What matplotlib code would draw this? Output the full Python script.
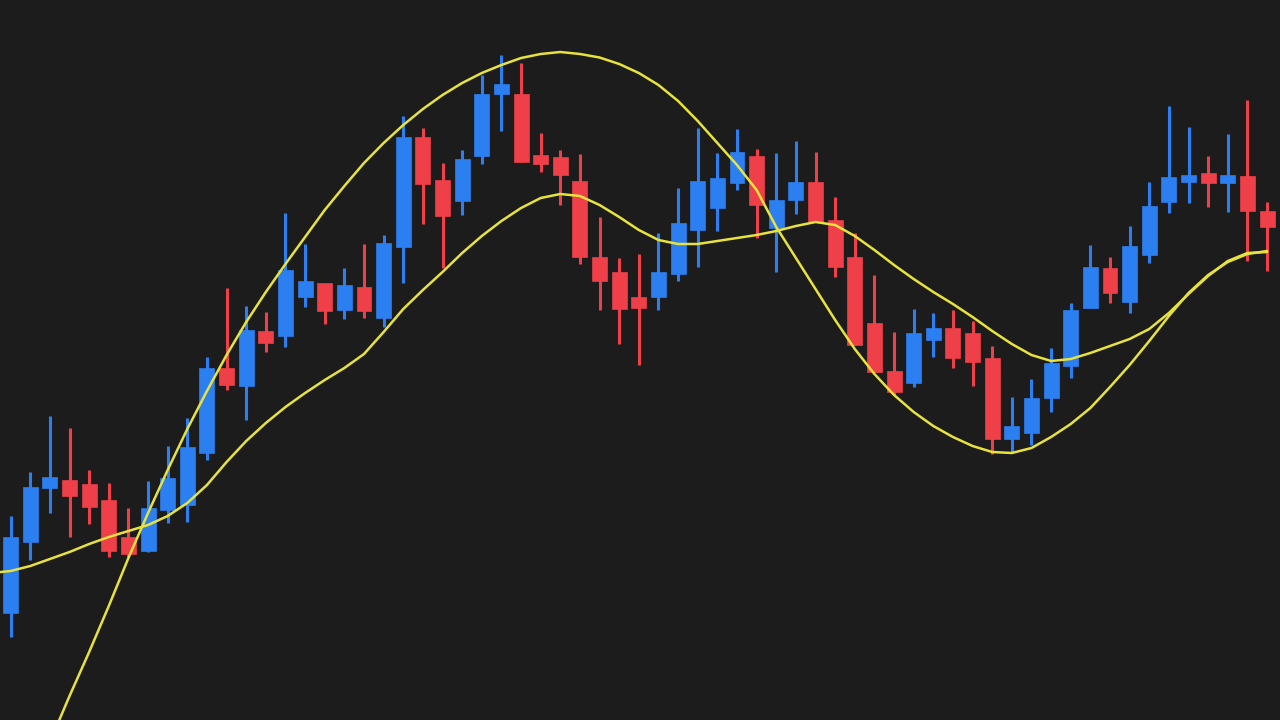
import numpy as np
import matplotlib
matplotlib.use("Agg")
import matplotlib.pyplot as plt

# Candle OHLC (price units)
opens = [111.7, 110.7, 117.8, 123.2, 124.0, 123.6, 122.0, 118.3, 116.9, 121.0,
         121.5, 126.7, 135.2, 133.4, 138.9, 138.4, 142.3, 143.7, 141.0, 143.3,
         140.2, 147.3, 158.3, 154.0, 151.9, 156.4, 162.6, 162.6, 156.5, 156.3,
         153.9, 146.3, 144.8, 142.3, 142.3, 144.6, 149.0, 151.2, 153.7, 156.4,
         149.2, 152.0, 153.8, 150.0, 146.3, 139.7, 134.9, 133.7, 138.0, 139.2,
         138.7, 136.2, 128.1, 128.7, 132.2, 135.4, 141.2, 145.2, 141.8, 146.5,
         151.8, 153.8, 154.7, 153.7, 154.4, 150.9]
highs = [112.2, 120.4, 124.8, 130.4, 129.2, 125.0, 123.7, 121.2, 123.9, 127.4,
         130.2, 136.3, 143.2, 141.4, 140.8, 150.7, 147.6, 143.7, 145.2, 147.6,
         148.5, 160.4, 159.2, 155.7, 157.0, 164.5, 166.5, 165.7, 158.7, 157.0,
         156.6, 150.3, 146.2, 146.6, 148.7, 153.2, 159.2, 156.7, 159.1, 157.1,
         156.7, 157.9, 156.8, 152.3, 148.7, 144.5, 138.8, 141.1, 140.7, 141.0,
         139.9, 137.4, 132.3, 134.1, 137.2, 141.7, 147.5, 146.3, 149.4, 153.8,
         161.4, 159.3, 156.4, 158.6, 162.0, 151.8]
lows = [110.4, 108.3, 116.0, 120.7, 118.3, 119.6, 116.3, 116.3, 116.8, 119.7,
        119.8, 126.0, 133.0, 130.0, 136.8, 137.3, 141.3, 139.6, 140.1, 140.2,
        139.3, 143.7, 149.6, 145.2, 150.5, 155.6, 158.9, 155.8, 154.8, 151.5,
        145.6, 141.0, 137.6, 135.5, 141.0, 143.9, 145.3, 148.9, 153.0, 148.2,
        144.8, 150.6, 149.8, 144.3, 137.5, 134.8, 132.5, 133.3, 136.3, 135.2,
        133.4, 126.6, 126.8, 127.5, 130.8, 134.2, 141.2, 141.7, 140.7, 145.7,
        150.7, 151.7, 151.3, 150.8, 145.9, 144.9]
closes = [110.7, 118.3, 123.3, 124.3, 122.4, 121.3, 116.9, 116.6, 121.2, 124.2,
          127.3, 135.2, 133.5, 139.0, 137.7, 145.0, 143.9, 140.9, 143.5, 140.9,
          147.7, 158.3, 153.6, 150.4, 156.1, 162.6, 163.6, 155.8, 155.6, 154.5,
          146.3, 143.9, 141.1, 141.2, 144.8, 149.7, 153.9, 154.2, 156.8, 151.5,
          152.0, 153.8, 149.8, 145.3, 137.5, 134.8, 132.8, 138.7, 139.2, 136.2,
          135.8, 128.1, 129.4, 132.2, 135.7, 141.0, 145.3, 142.7, 147.4, 151.4,
          154.3, 154.5, 153.7, 154.5, 150.9, 149.3]

nan = float("nan")
fast_ma = [nan, nan, nan, 97.8, 102.4, 106.8, 111.4, 116.2, 120.7, 125.0,
           129.1, 132.9, 136.5, 139.8, 142.8, 145.6, 148.3, 151.0, 153.4, 155.7,
           157.7, 159.5, 161.1, 162.5, 163.7, 164.7, 165.5, 166.2, 166.6, 166.8,
           166.6, 166.25, 165.6, 164.7, 163.5, 161.9, 159.9, 157.7, 155.5, 153.0,
           149.3, 146.2, 143.1, 140.0, 137.1, 134.6, 132.5, 130.8, 129.4, 128.3,
           127.4, 126.8, 126.7, 127.2, 128.3, 129.6, 131.2, 133.3, 135.5, 137.9,
           140.4, 142.7, 144.5, 145.8, 146.6, 146.9]
slow_ma = [114.7, 114.9, 115.4, 116.1, 116.8, 117.6, 118.3, 118.9, 119.5, 120.4,
           121.7, 123.5, 125.8, 127.9, 129.7, 131.3, 132.7, 134.0, 135.2, 136.6,
           138.8, 141.1, 143.0, 144.8, 146.7, 148.4, 149.9, 151.2, 152.2, 152.6,
           152.4, 151.5, 150.3, 149.0, 148.0, 147.6, 147.6, 147.9, 148.2, 148.5,
           148.9, 149.4, 149.8, 149.5, 148.4, 147.0, 145.5, 144.1, 142.8, 141.6,
           140.3, 138.9, 137.6, 136.5, 135.9, 136.1, 136.7, 137.4, 138.1, 139.1,
           140.7, 142.6, 144.4, 145.9, 146.7, 146.8]

BG = "#1c1c1c"
UP = "#2b7ff0"
DOWN = "#ef3f48"
LINE = "#e8e23c"

fig = plt.figure(figsize=(12.8, 7.2), dpi=100, facecolor=BG)
ax = fig.add_axes([0, 0, 1, 1])
ax.set_facecolor(BG)

idx = np.arange(len(opens))
o = np.array(opens); h = np.array(highs); l = np.array(lows); c = np.array(closes)
up = c >= o
colors = np.where(up, UP, DOWN)

ax.vlines(idx, l, h, colors=colors, linewidth=2.2, zorder=2)
ax.bar(idx, np.abs(c - o), bottom=np.minimum(o, c), width=0.76,
       color=colors, edgecolor=colors, linewidth=0.5, zorder=3)

ax.plot(idx, slow_ma, color=LINE, linewidth=1.8, zorder=4,
        solid_capstyle="round", solid_joinstyle="round")
ax.plot(idx, fast_ma, color=LINE, linewidth=1.8, zorder=4,
        solid_capstyle="round", solid_joinstyle="round")

ax.set_xlim(0.4585, 65.66)
ax.set_ylim(100, 172)
ax.axis("off")

fig.savefig("out.png", dpi=100, facecolor=BG)
